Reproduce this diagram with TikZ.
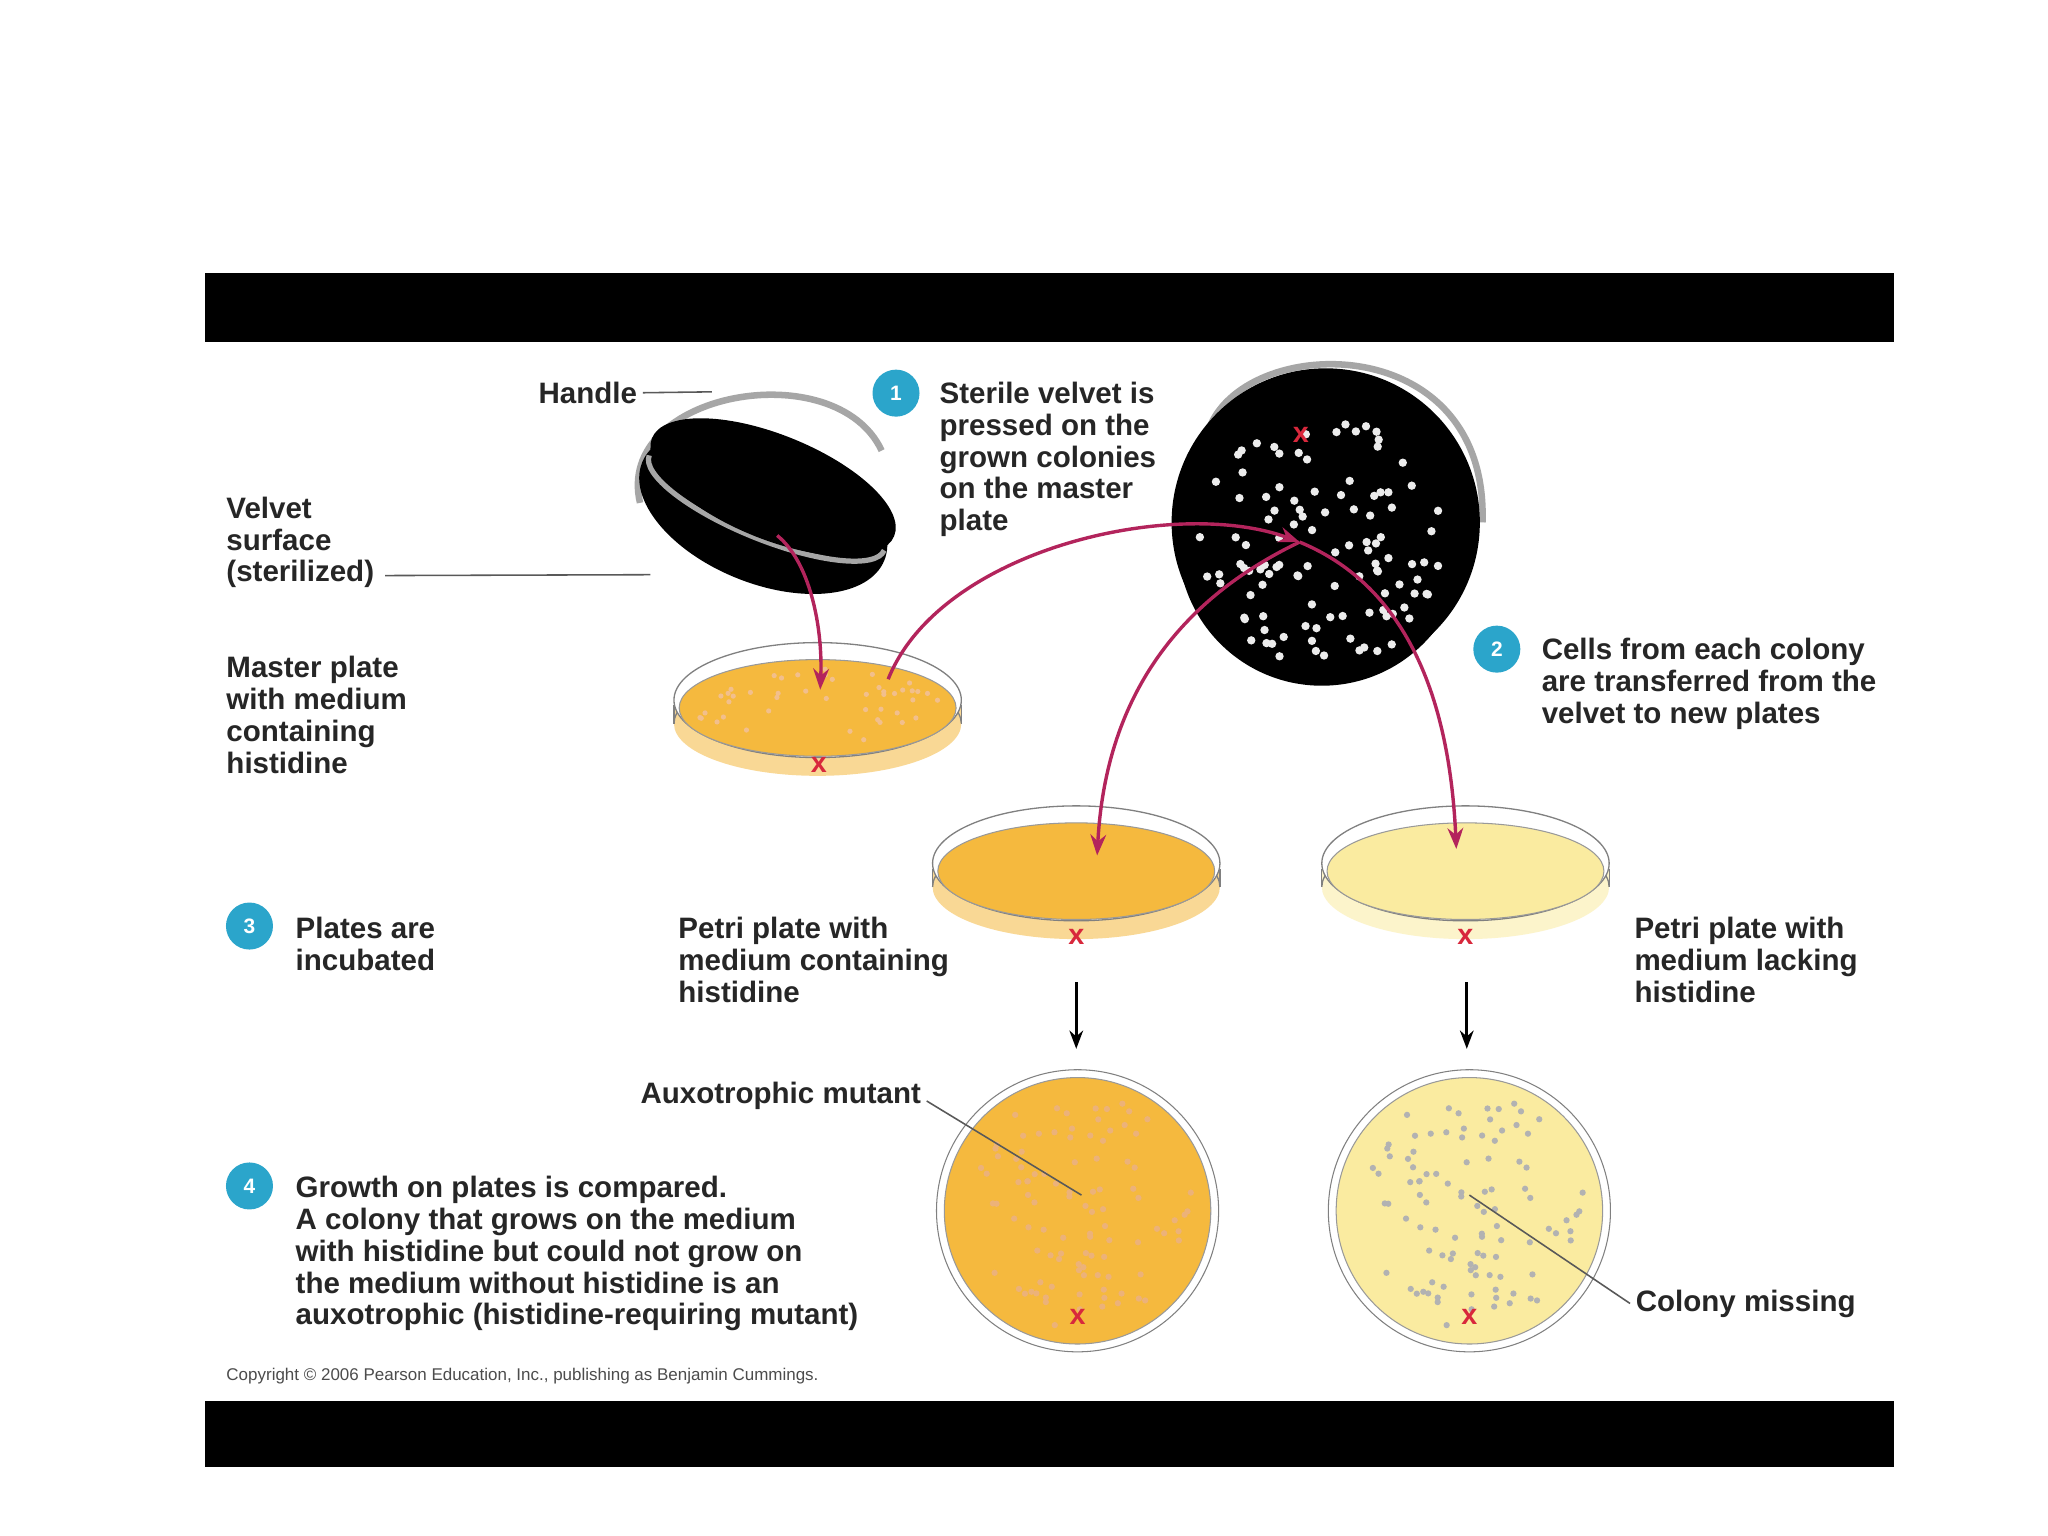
\documentclass[tikz,border=0pt]{standalone}
\usepackage{fontspec}
\setmainfont{Liberation Sans}
\usetikzlibrary{arrows.meta,calc}
\definecolor{org}{HTML}{F5B93E}
\definecolor{pale}{HTML}{FAEBA0}
\definecolor{mag}{HTML}{B3245C}
\definecolor{cy}{HTML}{2BA5CB}
\definecolor{xr}{HTML}{D8283C}
\tikzset{
 lbl/.style={font=\bfseries\fontsize{11.3}{12.2}\selectfont,align=left,anchor=north west,inner sep=0pt,text=black!85},
 num/.style={circle,fill=cy,text=white,font=\bfseries\fontsize{8}{8}\selectfont,minimum size=18pt,inner sep=0pt},
 arr/.style={mag,line width=1.3pt,-{Stealth[length=8pt,width=6pt]}},
 lead/.style={gray!70!black,line width=0.6pt},
 dn/.style={black,line width=1pt,-{Stealth[length=7pt]}},
 xm/.style={xr,font=\bfseries\fontsize{11}{11}\selectfont,inner sep=0pt}
}
\newcommand{\plate}[4]{% cx cy rx color
 \fill[#4!55!white] (#1,#2+14) ellipse[x radius=#3,y radius=40];
 \fill[#4!55!white] (#1-#3,#2) rectangle (#1+#3,#2+14);
 \draw[gray,line width=0.5pt] (#1-#3,#2) -- (#1-#3,#2+14) (#1+#3,#2)--(#1+#3,#2+14);
 \draw[gray,line width=0.5pt] (#1-#3,#2+14) arc[start angle=180,end angle=360,x radius=#3,y radius=40];
 \fill[white] (#1,#2-4) ellipse[x radius=#3,y radius=44];
 \draw[gray,line width=0.5pt] (#1,#2-4) ellipse[x radius=#3,y radius=44];
 \fill[#4] (#1,#2+2) ellipse[x radius=#3-4,y radius=37];
 \draw[gray!80,line width=0.4pt] (#1,#2+2) ellipse[x radius=#3-4,y radius=37];
}
\begin{document}
\begin{tikzpicture}[x=0.5pt,y=-0.5pt]
\useasboundingbox (0,0) rectangle (1568,1176);
\fill[white] (0,0) rectangle (1568,1176);
\fill[black] (157,209) rectangle (1450,262);
\fill[black] (157,1073) rectangle (1450,1123);
% velvet 1
\draw[gray!70,line width=2.5pt] (490,385) .. controls (470,300) and (640,270) .. (675,345);
\begin{scope}[rotate around={-22:(587,385)}]
\fill[black] (587,392) ellipse[x radius=100,y radius=55];
\draw[gray!70,line width=2pt] (490,385) arc[start angle=180,end angle=360,x radius=97,y radius=-28];
\fill[black] (587,372) ellipse[x radius=100,y radius=40];
\end{scope}
\coordinate (v1) at (595,410);
% velvet 2
\draw[gray!70,line width=2.5pt] (925,330) .. controls (950,255) and (1140,250) .. (1135,400);
\fill[black] (1015,400) circle[radius=118];
\fill[black] (1012,415) circle[radius=110];
\pgfmathsetseed{7}
\foreach \i in {1,...,110}{
 \pgfmathsetmacro\a{rnd*360}\pgfmathsetmacro\r{sqrt(rnd)*95}
 \fill[white!85!gray] ($(1012,415)+(\a:\r)$) circle[radius=3.2];
}
\node[xm] (x0) at (996,333) {x};
\coordinate (v2) at (995,415);
% plates
\plate{626}{540}{110}{org}
\plate{824}{665}{110}{org}
\plate{1122}{665}{110}{pale}
\pgfmathsetseed{3}
\foreach \i in {1,...,45}{
 \pgfmathsetmacro\a{rnd*360}\pgfmathsetmacro\r{sqrt(rnd)}
 \fill[orange!60!brown!50] ($(626,542)+({95*\r*cos(\a)},{30*\r*sin(\a)})$) circle[radius=2];
}
\node[xm] (xa) at (627,586) {x};
\node[xm] (xb) at (824,717) {x};
\node[xm] (xc) at (1122,717) {x};
% bottom circles
\fill[white] (825,927) circle[radius=108];\draw[gray] (825,927) circle[radius=108];
\fill[org] (825,927) circle[radius=102];\draw[gray!80] (825,927) circle[radius=102];
\fill[white] (1125,927) circle[radius=108];\draw[gray] (1125,927) circle[radius=108];
\fill[pale] (1125,927) circle[radius=102];\draw[gray!80] (1125,927) circle[radius=102];
\pgfmathsetseed{11}
\foreach \i in {1,...,100}{
 \pgfmathsetmacro\a{rnd*360}\pgfmathsetmacro\r{sqrt(rnd)*90}
 \fill[orange!50!brown!60] ($(825,927)+(\a:\r)$) circle[radius=2.4];
 \fill[gray!60] ($(1125,927)+(\a:\r)$) circle[radius=2.4];
}
\node[xm] (xd) at (825,1008) {x};
\node[xm] (xe) at (1125,1008) {x};
\coordinate (auxp) at (828,915);
\coordinate (misp) at (1125,915);
% arrows
\coordinate (m1) at (628,528);
\coordinate (m0) at (680,520);
\coordinate (p2) at (840,655);
\coordinate (p3) at (1115,650);
\draw[arr] (v1) .. controls (620,430) and (630,480) .. (m1);
\draw[arr] (m0) .. controls (720,420) and (900,380) .. (v2);
\draw[arr] (v2) .. controls (880,470) and (845,560) .. (p2);
\draw[arr] (v2) .. controls (1080,450) and (1110,540) .. (p3);
\coordinate (d1a) at (824,752);\coordinate (d1b) at (824,803);
\coordinate (d2a) at (1123,752);\coordinate (d2b) at (1123,803);
\draw[dn] (d1a) -- (d1b);
\draw[dn] (d2a) -- (d2b);
% labels
\node[lbl] (hand) at (412,292) {Handle};
\draw[lead] (hand.east) ++(4,0) coordinate (h1) -- (545,300) coordinate (h2);
\node[lbl] (vel) at (173,380) {Velvet\\surface\\(sterilized)};
\coordinate (velp) at (498,440);
\draw[lead] (vel.south east) ++(8,-10) -- (velp);
\node[lbl] at (173,502) {Master plate\\with medium\\containing\\histidine};
\node[num] (n1) at (686,301) {1};
\node[lbl] at (719,292) {Sterile velvet is\\pressed on the\\grown colonies\\on the master\\plate};
\node[num] (n2) at (1146,497) {2};
\node[lbl] at (1180,488) {Cells from each colony\\are transferred from the\\velvet to new plates};
\node[num] (n3) at (191,709) {3};
\node[lbl] at (226,702) {Plates are\\incubated};
\node[lbl] at (519,702) {Petri plate with\\medium containing\\histidine};
\node[lbl] at (1251,702) {Petri plate with\\medium lacking\\histidine};
\node[lbl] (aux) at (490,828) {Auxotrophic mutant};
\draw[lead] (aux.east) ++(4,4) -- (auxp);
\node[num] (n4) at (191,908) {4};
\node[lbl] at (226,900) {Growth on plates is compared.\\A colony that grows on the medium\\with histidine but could not grow on\\the medium without histidine is an\\auxotrophic (histidine-requiring mutant)};
\node[lbl] (mis) at (1252,987) {Colony missing};
\draw[lead] (mis.west) ++(-4,0) -- (misp);
\node[lbl,font=\fontsize{6.5}{7}\selectfont,text=black!70] at (173,1047) {Copyright \textcopyright\ 2006 Pearson Education, Inc., publishing as Benjamin Cummings.};
\end{tikzpicture}
\end{document}
